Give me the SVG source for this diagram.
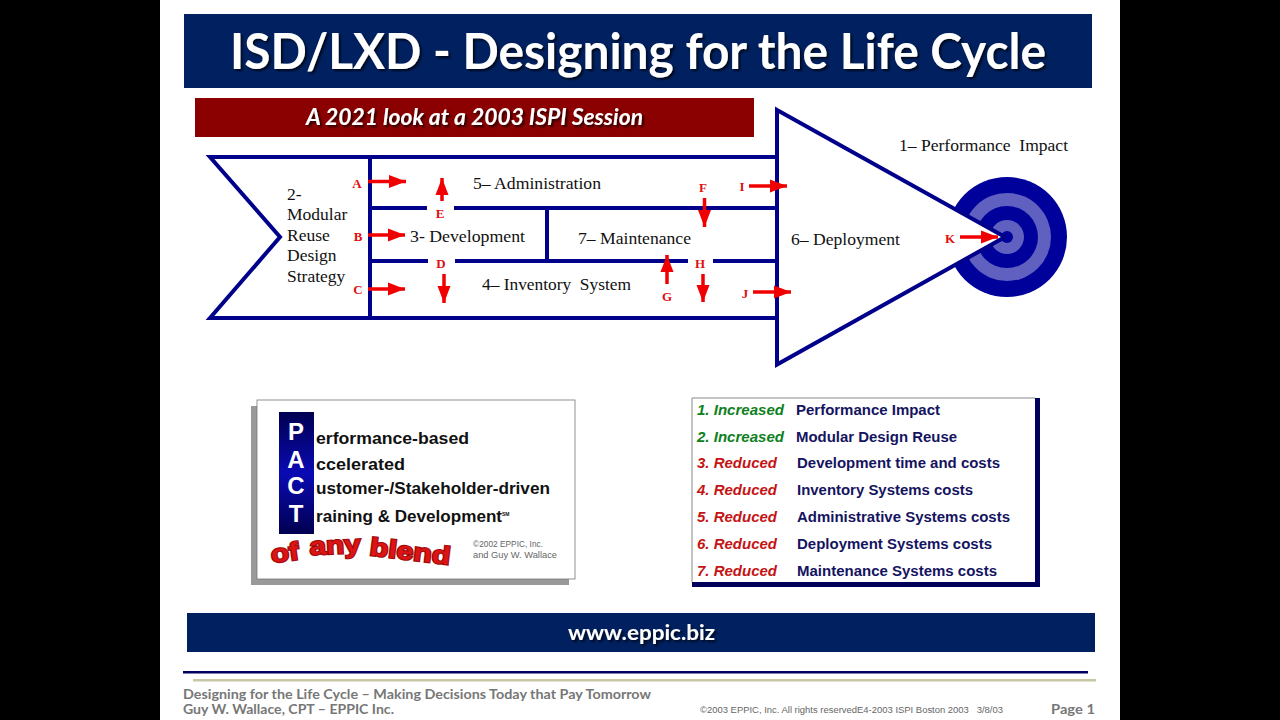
<svg xmlns="http://www.w3.org/2000/svg" width="1280" height="720" viewBox="0 0 1280 720">
<style>
.navy{fill:#00205f}
.sh{fill:#fff;font-family:Lato,"Open Sans",sans-serif;font-weight:700}
.ln{fill:none;stroke:#00008b;stroke-width:4}
.lb{font-family:"Liberation Serif",serif;font-size:17.5px;fill:#111}
.rl{font-family:"Liberation Serif",serif;font-size:13px;font-weight:700;fill:#e01010;text-anchor:middle}
.ar{stroke:#f00000;stroke-width:3.500;fill:none;marker-end:url(#ah)}
.pt{font-family:"Liberation Sans",sans-serif;font-weight:700;font-size:17px;fill:#111}
.pl{font-family:"Liberation Sans",sans-serif;font-weight:700;font-size:24px;fill:#fff;text-anchor:middle}
.bl{font-family:"Liberation Sans",sans-serif;font-weight:700;fill:#dc1414;stroke:#a00a0a;stroke-width:2.200;paint-order:stroke}
.cp{font-family:"Liberation Sans",sans-serif;font-size:8.500px;fill:#666}
.g{font-family:"Liberation Sans",sans-serif;font-weight:700;font-style:italic;font-size:15px;fill:#0d8020}
.r{font-family:"Liberation Sans",sans-serif;font-weight:700;font-style:italic;font-size:15px;fill:#c41414}
.n{font-family:"Liberation Sans",sans-serif;font-weight:700;font-size:14.500px;fill:#14145f}
.f{font-family:Lato,"Liberation Sans",sans-serif;font-weight:700;fill:#777;font-size:14px}
</style>
<defs>
<marker id="ah" markerUnits="userSpaceOnUse" markerWidth="18" markerHeight="14" refX="17" refY="7" orient="auto"><path d="M0 0.500L17 7L0 13.500Z" fill="#f00000"/></marker>
<linearGradient id="pg" x1="0" y1="0" x2="0" y2="1"><stop offset="0" stop-color="#000050"/><stop offset=".5" stop-color="#0a0ab4"/><stop offset="1" stop-color="#000050"/></linearGradient>
<filter id="ds" x="-5%" y="-20%" width="110%" height="140%"><feDropShadow dx="2" dy="2" stdDeviation="1" flood-color="#000" flood-opacity=".7"/></filter>
</defs>
<rect width="1280" height="720" fill="#000"/>
<rect x="160" width="960" height="720" fill="#fff"/>
<g id="title"><rect class="navy" x="184" y="14" width="908" height="74"/>
<text class="sh" x="230" y="69" font-size="50" textLength="816" lengthAdjust="spacingAndGlyphs" filter="url(#ds)">ISD/LXD - Designing for the Life Cycle</text></g>
<g id="subtitle"><rect x="195" y="98" width="559" height="39" fill="#8b0000"/>
<text class="sh" x="306" y="125" font-size="23" font-style="italic" textLength="337" lengthAdjust="spacingAndGlyphs" filter="url(#ds)">A 2021 look at a 2003 ISPI Session</text></g>
<g id="target"><circle cx="1007" cy="237" r="60" fill="#00009a"/><circle cx="1007" cy="237" r="44" fill="#6060c0"/><circle cx="1007" cy="237" r="31" fill="#00009a"/><circle cx="1007" cy="237" r="17" fill="#6060c0"/><circle cx="1007" cy="237" r="6" fill="#00009a"/></g>
<g id="strategy"><path class="ln" d="M370 157H210L280 237L210 318H370V157Z" style="fill:#fff"/>
<text class="lb" x="287" y="200">2-</text><text class="lb" x="287" y="220">Modular</text><text class="lb" x="287" y="241">Reuse</text><text class="lb" x="287" y="261">Design</text><text class="lb" x="287" y="282">Strategy</text></g>
<g id="shaft"><path class="ln" d="M370 157H776M370 318H776M370 208H427M454 208H776M370 261H428M455 261H688M713 261H776M547 208V261"/></g>
<g id="administration"><text class="lb" x="473" y="189" textLength="128" lengthAdjust="spacingAndGlyphs">5– Administration</text></g>
<g id="development"><text class="lb" x="410" y="242" textLength="115" lengthAdjust="spacingAndGlyphs">3- Development</text></g>
<g id="maintenance"><text class="lb" x="578" y="244" textLength="113" lengthAdjust="spacingAndGlyphs">7– Maintenance</text></g>
<g id="inventory"><text class="lb" x="482" y="290" textLength="149" lengthAdjust="spacingAndGlyphs" xml:space="preserve">4– Inventory  System</text></g>
<g id="deployment"><path class="ln" d="M777 110L1005 237L777 364.500Z" style="fill:#fff"/><text class="lb" x="791" y="245" textLength="109" lengthAdjust="spacingAndGlyphs">6– Deployment</text></g>
<g id="impact"><text class="lb" x="899" y="151" textLength="169" lengthAdjust="spacingAndGlyphs" xml:space="preserve">1– Performance  Impact</text></g>
<g id="connectors">
<path class="ar" d="M368 181.500H406"/><path class="ar" d="M368 235H405"/><path class="ar" d="M368 289H405"/>
<path class="ar" d="M442 201V178"/><path class="ar" d="M444 274V303"/><path class="ar" d="M704.500 198V227"/>
<path class="ar" d="M667 284V255"/><path class="ar" d="M703 274V302"/>
<path class="ar" d="M749 186H787"/><path class="ar" d="M753 292H791"/><path class="ar" d="M960 237H998"/>
</g>
<g id="connector-labels">
<text class="rl" x="357" y="188">A</text><text class="rl" x="358" y="241">B</text><text class="rl" x="358" y="294">C</text>
<text class="rl" x="440" y="218">E</text><text class="rl" x="441" y="268">D</text><text class="rl" x="703" y="192">F</text>
<text class="rl" x="667" y="301">G</text><text class="rl" x="700" y="268">H</text><text class="rl" x="742" y="191">I</text>
<text class="rl" x="745" y="298">J</text><text class="rl" x="950" y="243">K</text></g>
<g id="pact-card"><rect x="251" y="406" width="318" height="179" fill="#999"/><rect x="257" y="400" width="318" height="179" fill="#fff" stroke="#777" stroke-width=".8"/>
<rect x="279" y="412" width="35" height="122" fill="url(#pg)"/>
<text class="pl" x="296" y="440">P</text><text class="pl" x="296" y="468">A</text><text class="pl" x="296" y="494">C</text><text class="pl" x="296" y="522">T</text>
<text class="pt" x="316" y="444" textLength="153" lengthAdjust="spacingAndGlyphs">erformance-based</text><text class="pt" x="316" y="470" textLength="89" lengthAdjust="spacingAndGlyphs">ccelerated</text><text class="pt" x="316" y="494" textLength="234" lengthAdjust="spacingAndGlyphs">ustomer-/Stakeholder-driven</text><text class="pt" x="316" y="522" textLength="186" lengthAdjust="spacingAndGlyphs">raining &amp; Development</text>
<text class="pt" x="502" y="516" style="font-size:5px">SM</text>
<text class="bl" transform="translate(272 563) rotate(-8)" font-size="25" textLength="28" lengthAdjust="spacingAndGlyphs">of</text><text class="bl" transform="translate(310 555) rotate(-3)" font-size="25" textLength="51" lengthAdjust="spacingAndGlyphs">any</text><text class="bl" transform="translate(369 555) rotate(7)" font-size="25" textLength="81" lengthAdjust="spacingAndGlyphs">blend</text>
<text class="cp" x="473" y="547" textLength="70" lengthAdjust="spacingAndGlyphs">©2002 EPPIC, Inc.</text><text class="cp" x="473" y="558" textLength="84" lengthAdjust="spacingAndGlyphs">and Guy W. Wallace</text></g>
<g id="benefits"><rect x="692" y="398" width="348" height="189" fill="#00005a"/><rect x="692" y="398" width="343" height="184" fill="#fff"/><path d="M692 582V398H1035" fill="none" stroke="#888"/>
<text class="g" x="697" y="415" textLength="87" lengthAdjust="spacingAndGlyphs">1. Increased</text><text class="n" x="796" y="415" textLength="144" lengthAdjust="spacingAndGlyphs">Performance Impact</text>
<text class="g" x="697" y="442" textLength="87" lengthAdjust="spacingAndGlyphs">2. Increased</text><text class="n" x="796" y="442" textLength="161" lengthAdjust="spacingAndGlyphs">Modular Design Reuse</text>
<text class="r" x="697" y="468" textLength="80" lengthAdjust="spacingAndGlyphs">3. Reduced</text><text class="n" x="797" y="468" textLength="203" lengthAdjust="spacingAndGlyphs">Development time and costs</text>
<text class="r" x="697" y="495" textLength="80" lengthAdjust="spacingAndGlyphs">4. Reduced</text><text class="n" x="797" y="495" textLength="176" lengthAdjust="spacingAndGlyphs">Inventory Systems costs</text>
<text class="r" x="697" y="522" textLength="80" lengthAdjust="spacingAndGlyphs">5. Reduced</text><text class="n" x="797" y="522" textLength="213" lengthAdjust="spacingAndGlyphs">Administrative Systems costs</text>
<text class="r" x="697" y="549" textLength="80" lengthAdjust="spacingAndGlyphs">6. Reduced</text><text class="n" x="797" y="549" textLength="195" lengthAdjust="spacingAndGlyphs">Deployment Systems costs</text>
<text class="r" x="697" y="576" textLength="80" lengthAdjust="spacingAndGlyphs">7. Reduced</text><text class="n" x="797" y="576" textLength="200" lengthAdjust="spacingAndGlyphs">Maintenance Systems costs</text></g>
<g id="url"><rect class="navy" x="187" y="613" width="908" height="39"/><text class="sh" x="568" y="640" font-size="21" textLength="147" lengthAdjust="spacingAndGlyphs" filter="url(#ds)">www.eppic.biz</text></g>
<g id="footer"><rect x="183" y="671" width="905" height="2.500" fill="#00005f"/><rect x="193" y="679" width="903" height="2.500" fill="#c8c8a4"/>
<text class="f" x="183" y="699" textLength="468" lengthAdjust="spacingAndGlyphs">Designing for the Life Cycle – Making Decisions Today that Pay Tomorrow</text>
<text class="f" x="183" y="714" textLength="211" lengthAdjust="spacingAndGlyphs">Guy W. Wallace, CPT – EPPIC Inc.</text>
<text class="cp" x="700" y="713" textLength="303" lengthAdjust="spacingAndGlyphs" xml:space="preserve">©2003 EPPIC, Inc. All rights reservedE4-2003 ISPI Boston 2003   3/8/03</text>
<text class="f" x="1051" y="714" textLength="44" lengthAdjust="spacingAndGlyphs">Page 1</text></g>
</svg>
